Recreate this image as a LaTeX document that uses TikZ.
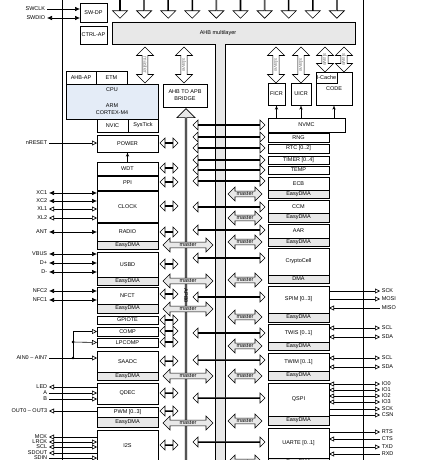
\documentclass[tikz,border=0pt]{standalone}
\usepackage{fontspec}
\setmainfont{Liberation Sans}
\usetikzlibrary{shapes,arrows,arrows.meta,positioning}

\definecolor{cpufill}{RGB}{228,236,247}
\definecolor{busgray}{RGB}{232,232,232}
\newcommand{\fs}{\fontsize{5.5}{7}\selectfont}

\tikzstyle{block} = [rectangle, draw, line width=0.8pt, inner sep=0pt, outer sep=0pt, align=center]
\tikzstyle{dma} = [block, fill=busgray]
\tikzstyle{lbl} = [inner sep=1.5pt]
\tikzstyle{link} = [double arrow, draw, fill=white, line width=0.6pt, inner sep=0pt,
    minimum width=10pt, double arrow head extend=3pt, double arrow tip angle=90]
\tikzstyle{master} = [link, fill=busgray, minimum width=14pt]
\tikzstyle{port} = [link, minimum width=17pt, double arrow head extend=4pt, rotate=-90, text=gray]
\tikzstyle{downbus} = [single arrow, draw, fill=white, line width=0.6pt, inner sep=0pt,
    minimum width=15pt, single arrow head extend=4.5pt, single arrow tip angle=90,
    minimum height=38pt, rotate=-90]
\tikzstyle{apbbus} = [single arrow, draw, fill=busgray, line width=0.7pt, inner sep=0pt,
    minimum width=18pt, single arrow head extend=4pt, single arrow tip angle=90, rotate=90]
\tikzstyle{line} = [draw, line width=0.6pt]
\tikzstyle{toext} = [-{Triangle[open,length=5pt,width=5pt]}]
\tikzstyle{fromext} = [{Triangle[open,length=5pt,width=5pt]}-]
\tikzstyle{bothext} = [{Triangle[open,length=5pt,width=5pt]}-{Triangle[open,length=5pt,width=5pt]}]
\tikzstyle{solidin} = [{Latex[length=5pt,width=4.5pt]}-]
\tikzstyle{solidboth} = [{Latex[length=5pt,width=4.5pt]}-{Latex[length=5pt,width=4.5pt]}]

% box from corner (x1,y1) to corner (x2,y2)
\newcommand{\unit}[7][]{\node[block,#1,minimum width={#5-#3},minimum height={#6-#4}] (#2) at ({(#3+#5)/2},{(#4+#6)/2}) {#7};}
% double arrow from x1 to x2 at height y
\newcommand{\hlink}[6][link]{\node[#1,minimum height={#4-#3}] (#2) at ({(#3+#4)/2},#5) {#6};}
% vertical double arrow at x from y1 to y2
\newcommand{\vlink}[5]{\node[port,minimum height={#4-#3}] (#1) at (#2,{(#3+#4)/2}) {#5};}

\begin{document}
\begin{tikzpicture}[x=1pt, y=-1pt, font=\fs, line width=0.7pt]
\useasboundingbox (0,0) rectangle (440,460);

% chip outline
\draw (62,-5) -- (62,465);
\draw (363,-5) -- (363,465);

% buses from above
\foreach \k in {0,...,9}
  \node[downbus] (bus\k) at ({120+24.1*\k},-1) {};

% AHB multilayer and its bar
\draw[fill=busgray, line width=0.8pt] (112,22) -- (355,22) -- (355,44) -- (225,44) -- (225,470)
  -- (215,470) -- (215,44) -- (112,44) -- cycle;
\node (ahb) at (218,33) {AHB multilayer};

% debug
\unit{swdp}{80}{3}{107}{22}{SW-DP}
\unit{ctrlap}{80}{26}{107}{44}{CTRL-AP}
\node[lbl, anchor=east] (swclk) at (47,9) {SWCLK};
\node[lbl, anchor=east] (swdio) at (47,18) {SWDIO};
\draw[line, solidin] (swdp.west |- swclk) -- (swclk.east);
\draw[line, solidboth] (swdp.west |- swdio) -- (swdio.east);

% CPU
\unit{ahbap}{66}{71}{96}{84}{AHB-AP}
\unit{etm}{96}{71}{127}{84}{ETM}
\unit[fill=cpufill]{cpu}{66}{84}{158}{119}{CPU\\[9pt]ARM\\CORTEX-M4}
\unit{nvic}{97}{119}{128}{132}{NVIC}
\unit{systick}{128}{119}{158}{132}{SysTick}
\unit{bridge}{163}{84}{207}{107}{AHB TO APB\\BRIDGE}
\vlink{cpum}{145}{47}{83}{master}
\vlink{bridges}{184}{47}{83}{slave}

% APB bus
\node[apbbus, minimum height=361] (apb) at (186,289.5) {};
\node[rotate=-90] (apb0) at (186,296) {APB0};

% memories
\unit{ficr}{268}{83}{285}{105}{FICR}
\unit{uicr}{291}{83}{311}{105}{UICR}
\unit{code}{316}{72}{352}{105}{CODE}
\unit{icache}{316}{72}{337}{83}{I-Cache}
\vlink{ficrs}{276}{47}{83}{slave}
\vlink{uicrs}{301}{47}{83}{slave}
\vlink{icaches}{325}{47}{72}{slave}
\vlink{codes}{344}{47}{72}{slave}
\unit{nvmc}{268}{118}{345}{132}{NVMC}
\draw[line,-latex'] (nvmc.north -| ficr) -- (ficr.south);
\draw[line,-latex'] (nvmc.north -| uicr) -- (uicr.south);
\draw[line,-latex'] (nvmc.north -| code) -- (code.south);

% left peripherals
\unit{power}{97}{135}{158}{152}{POWER}
\unit{wdt}{97}{162}{158}{175}{WDT}
\unit{ppi}{97}{176}{158}{190}{PPI}
\unit{clock}{97}{191}{158}{222}{CLOCK}
\unit{radio}{97}{223}{158}{241}{RADIO}
\unit[dma]{radiodma}{97}{241}{158}{249}{EasyDMA}
\unit{usbd}{97}{252}{158}{277}{USBD}
\unit[dma]{usbddma}{97}{277}{158}{285}{EasyDMA}
\unit{nfct}{97}{287}{158}{304}{NFCT}
\unit[dma]{nfctdma}{97}{304}{158}{313}{EasyDMA}
\unit{gpiote}{97}{316}{158}{324}{GPIOTE}
\unit{comp}{97}{327}{158}{336}{COMP}
\unit{lpcomp}{97}{338}{158}{347}{LPCOMP}
\unit{saadc}{97}{351}{158}{372}{SAADC}
\unit[dma]{saadcdma}{97}{372}{158}{380}{EasyDMA}
\unit{qdec}{97}{383}{158}{404}{QDEC}
\unit{pwm}{97}{407}{158}{417}{PWM [0..3]}
\unit[dma]{pwmdma}{97}{417}{158}{427}{EasyDMA}
\unit{itwos}{97}{430}{158}{461}{I2S}
\draw[line,-latex'] (wdt.north) -- (power.south);

% right peripherals
\unit{rng}{268}{133}{329}{142}{RNG}
\unit{rtc}{268}{144}{329}{153}{RTC [0..2]}
\unit{timer}{268}{156}{329}{164}{TIMER [0..4]}
\unit{temp}{268}{166}{329}{174}{TEMP}
\unit{ecb}{268}{177}{329}{190}{ECB}
\unit[dma]{ecbdma}{268}{190}{329}{198}{EasyDMA}
\unit{ccm}{268}{200}{329}{213}{CCM}
\unit[dma]{ccmdma}{268}{213}{329}{222}{EasyDMA}
\unit{aar}{268}{224}{329}{238}{AAR}
\unit[dma]{aardma}{268}{238}{329}{246}{EasyDMA}
\unit{crypto}{268}{248}{329}{275}{CryptoCell}
\unit[dma]{cryptodma}{268}{275}{329}{283}{DMA}
\unit{spim}{268}{286}{329}{313}{SPIM [0..3]}
\unit[dma]{spimdma}{268}{313}{329}{322}{EasyDMA}
\unit{twis}{268}{324}{329}{342}{TWIS [0..1]}
\unit[dma]{twisdma}{268}{342}{329}{350}{EasyDMA}
\unit{twim}{268}{353}{329}{371}{TWIM [0..1]}
\unit[dma]{twimdma}{268}{371}{329}{380}{EasyDMA}
\unit{qspi}{268}{383}{329}{416}{QSPI}
\unit[dma]{qspidma}{268}{416}{329}{425}{EasyDMA}
\unit{uarte}{268}{428}{329}{458}{UARTE [0..1]}
\unit[dma]{uartedma}{268}{458}{329}{467}{EasyDMA}

% APB links
\foreach \n/\y in {power/143, wdt/168, ppi/182, clock/206, radio/232, usbd/264, nfct/294,
    gpiote/320, comp/331, lpcomp/342, saadc/361, qdec/393, pwm/411, itwos/445}
  {\hlink{l\n}{160}{178}{\y}{}}
\foreach \n/\y in {nvmc/125, rng/137, rtc/148, timer/160, temp/170, ecb/181, ccm/207,
    aar/230, crypto/258, spim/297, twis/333, twim/360, qspi/398, uarte/442}
  {\hlink{r\n}{193}{265}{\y}{}}

% EasyDMA masters
\foreach \n/\y in {radio/245, usbd/281, nfct/309, saadc/376, pwm/423}
  {\hlink[master]{m\n}{163}{213}{\y}{master}}
\foreach \n/\y in {ecb/194, ccm/218, aar/242, crypto/280, spim/317, twis/346,
    twim/376, qspi/421, uarte/462}
  {\hlink[master]{m\n}{228}{262}{\y}{master}}

% left pins
\foreach \b/\id/\t/\y/\st in {power/nreset/nRESET/143/fromext,
    clock/xcone/XC1/193/solidboth, clock/xctwo/XC2/201/solidboth,
    clock/xlone/XL1/209/bothext, clock/xltwo/XL2/218/bothext,
    radio/ant/ANT/232/solidboth,
    usbd/vbus/VBUS/254/solidboth, usbd/dp/D+/263/solidboth, usbd/dm/D-/272/solidboth,
    nfct/nfctwo/NFC2/291/solidboth, nfct/nfcone/NFC1/300/solidboth,
    qdec/led/LED/387/toext, qdec/qa/A/393/fromext, qdec/qb/B/399/fromext,
    pwm/out/OUT0 -- OUT3/411/toext,
    itwos/mck/MCK/437/toext, itwos/lrck/LRCK/442/bothext, itwos/iscl/SCL/447/bothext,
    itwos/sdout/SDOUT/453/toext, itwos/sdin/SDIN/458/fromext}
  {\node[lbl, anchor=east] (\id) at (49,\y) {\t};
   \draw[line,\st] (\b.west |- \id) -- (\id.east);}

% analog inputs
\node[lbl, anchor=east] (ain) at (49,358) {AIN0 -- AIN7};
\coordinate (ainsplit) at (73,358);
\coordinate (lpsplit) at (73,342);
\draw[line,fromext] (saadc.west |- ain) -- (ain.east);
\draw[line,fromext] (comp.west) -| (ainsplit);
\draw[line,fromext] (lpcomp.west) -- (lpsplit);
\fill (ainsplit) circle (1.4pt) (lpsplit) circle (1.4pt);

% right pins
\foreach \b/\id/\t/\y/\st in {spim/sck/SCK/291/toext, spim/mosi/MOSI/299/toext,
    spim/miso/MISO/308/fromext,
    twis/sscl/SCL/328/bothext, twis/ssda/SDA/337/bothext,
    twim/mscl/SCL/358/bothext, twim/msda/SDA/367/bothext,
    qspi/iozero/IO0/384/bothext, qspi/ioone/IO1/390/bothext, qspi/iotwo/IO2/396/bothext,
    qspi/iothree/IO3/402/bothext, qspi/qsck/SCK/409/toext, qspi/csn/CSN/415/toext,
    uarte/rts/RTS/432/toext, uarte/cts/CTS/439/fromext, uarte/txd/TXD/447/toext,
    uarte/rxd/RXD/454/fromext}
  {\node[lbl, anchor=west] (\id) at (380,\y) {\t};
   \draw[line,\st] (\b.east |- \id) -- (\id.west);}
\end{tikzpicture}
\end{document}
